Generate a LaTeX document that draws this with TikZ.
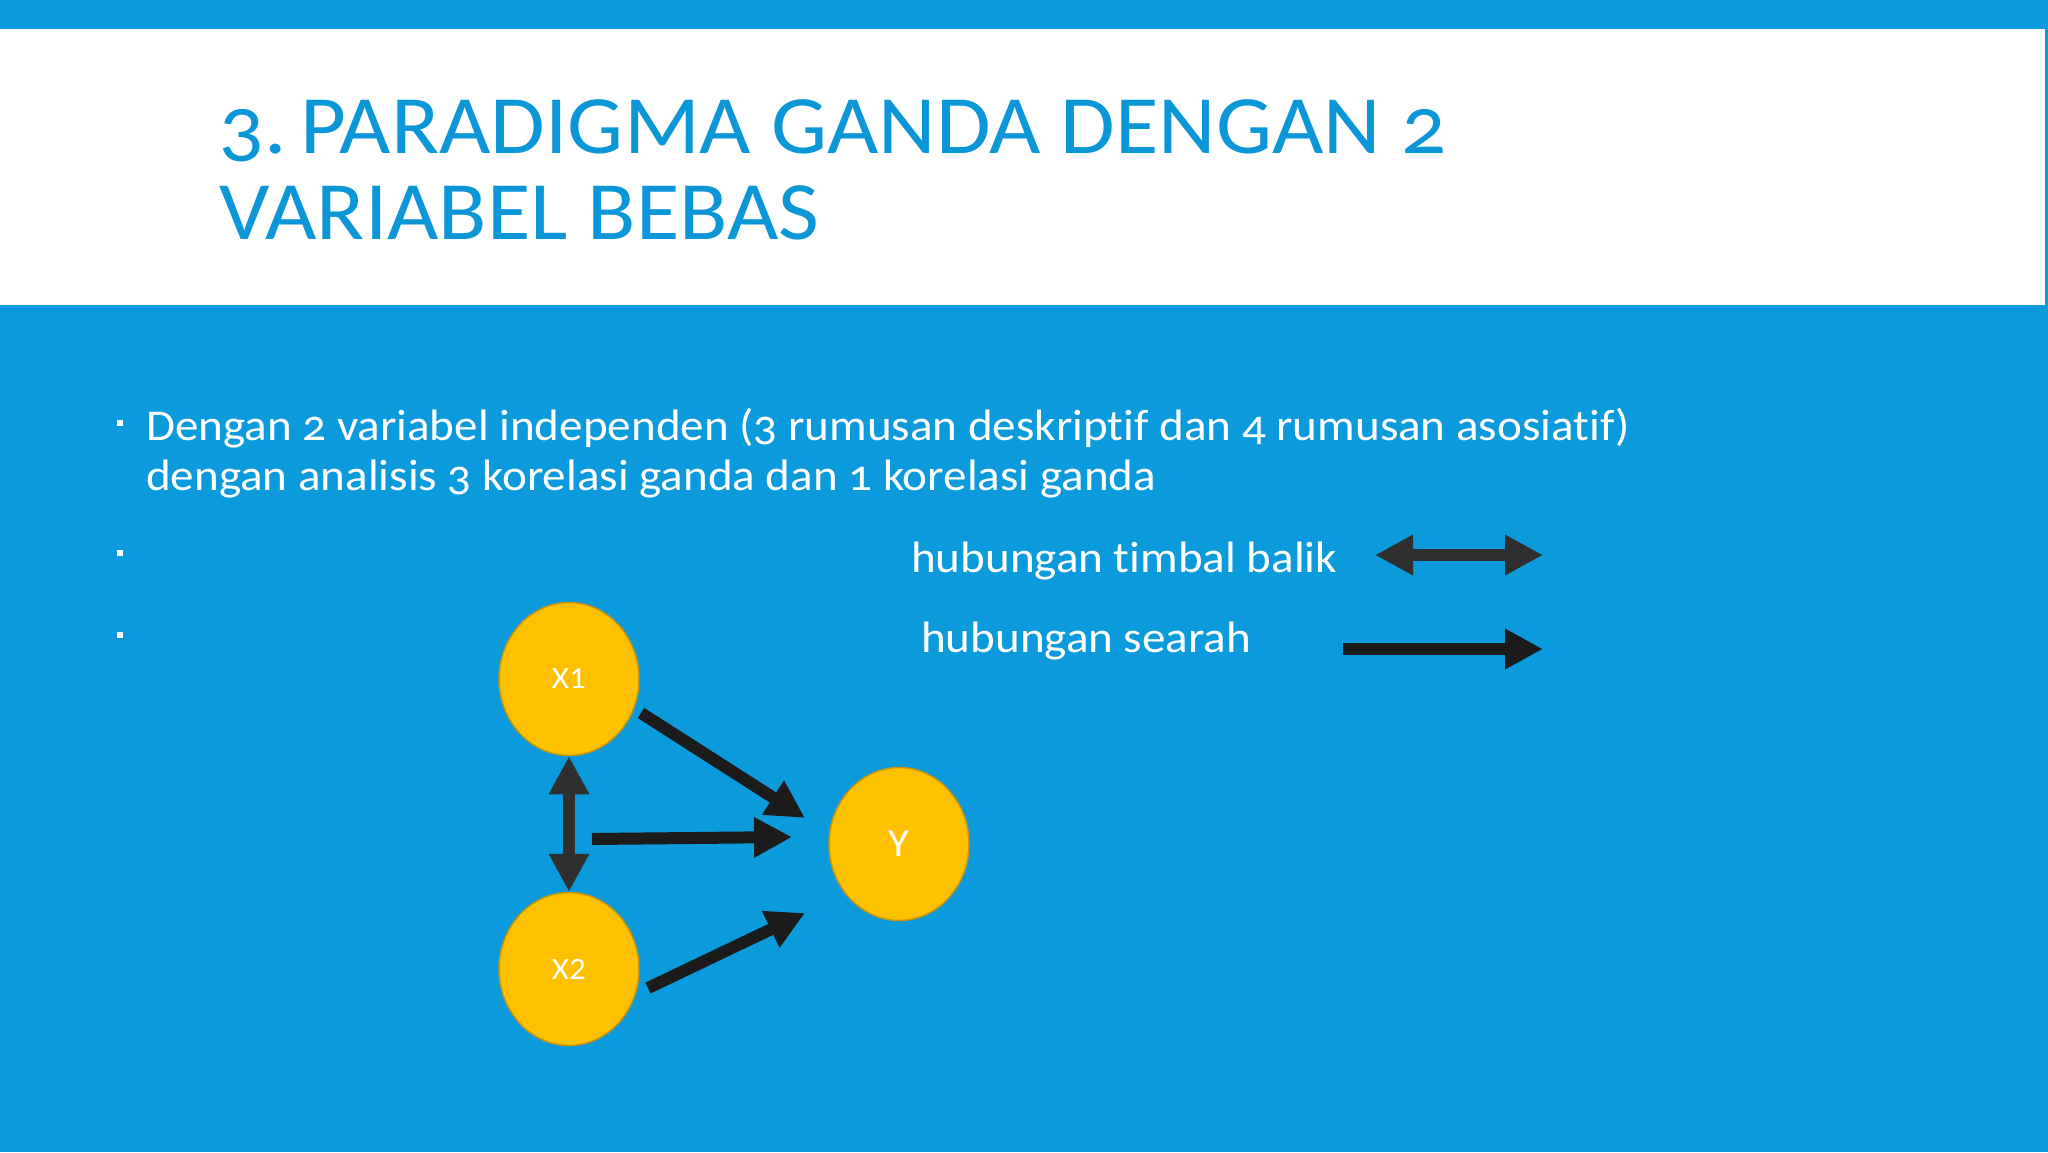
\documentclass[tikz,border=0pt]{standalone}
\usepackage{fontspec}
\setmainfont{Carlito}[Numbers=OldStyle, Ligatures=NoCommon, FakeStretch=1.07]
\usetikzlibrary{arrows.meta,shapes.geometric}
\definecolor{slideblue}{HTML}{0B9BDC}
\definecolor{titleblue}{HTML}{0B96D8}
\definecolor{varfill}{HTML}{FFC000}
\definecolor{varline}{HTML}{C8940A}
\definecolor{twoway}{HTML}{2F2F2F}
\definecolor{oneway}{HTML}{1B1B1B}

\begin{document}
\begin{tikzpicture}[x=1pt,y=-1pt,
    var/.style={ellipse, fill=varfill, draw=varline, line width=1.5pt, minimum width=140pt,
        minimum height=153pt, inner sep=0pt, text=white,
        font=\fontsize{31}{31}\selectfont\addfontfeatures{Numbers=Lining}},
    onearrow/.style={draw=oneway, line width=12pt, -{Triangle[length=38pt,width=38pt]}},
    twoarrow/.style={draw=twoway, line width=12pt,
        {Triangle[length=38pt,width=38pt]}-{Triangle[length=38pt,width=38pt]}},
    bodytext/.style={text=white, font=\fontsize{44}{50}\selectfont, inner sep=0pt, anchor=base west},
    bulletmark/.style={fill=white, minimum size=6pt, inner sep=0pt}]

    \useasboundingbox (0,0) rectangle (2048,1152);
    \fill[slideblue] (0,0) rectangle (2048,1152);
    \fill[white] (0,29) rectangle (2045,305);

    % base anchor of a multi-line node sits on its last line
    \node[anchor=base west, text=titleblue, align=left, inner sep=0pt,
        font=\fontsize{83}{86}\selectfont] (title) at (219,239)
        {3.\,PARADIGMA GANDA DENGAN 2\\VARIABEL BEBAS};

    \node[bodytext, align=left] (intro) at (146,490)
        {Dengan 2 variabel independen (3 rumusan deskriptif dan 4 rumusan asosiatif)\\dengan analisis 3 korelasi ganda dan 1 korelasi ganda};
    \foreach \by in {423,553,635}
        \node[bulletmark] (b\by) at (120,\by) {};

    \node[bodytext] (balik) at (911,572) {hubungan timbal balik};
    \node[bodytext] (searah) at (921,652) {hubungan searah};

    \coordinate (tb1) at (1375,555);
    \coordinate (tb2) at (1543,555);
    \coordinate (sr1) at (1343,649);
    \coordinate (sr2) at (1543,649);
    \draw[twoarrow] (tb1) -- (tb2);
    \draw[onearrow] (sr1) -- (sr2);

    \node[var] (x1) at (569,679) {X1};
    \node[var] (x2) at (569,969) {X2};
    \node[var, font=\fontsize{40}{40}\selectfont] (y) at (899,844) {Y};

    \coordinate (p1) at (641,713);
    \coordinate (q1) at (805,818);
    \coordinate (p2) at (592,839);
    \coordinate (q2) at (792,837);
    \coordinate (p3) at (648,988);
    \coordinate (q3) at (805,913);

    \draw[twoarrow] (x1.south) -- (x2.north);
    \draw[onearrow] (p1) -- (q1);
    \draw[onearrow] (p2) -- (q2);
    \draw[onearrow] (p3) -- (q3);
\end{tikzpicture}
\end{document}
